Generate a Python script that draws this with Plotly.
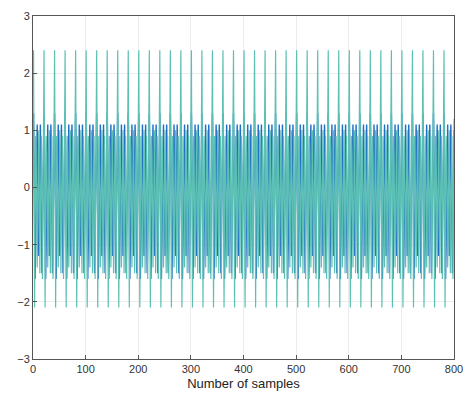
import plotly.graph_objects as go

# one period (20 samples), repeated over 800 samples
teal_period = [2.4, 0.2, -2.1, -0.4, 0.9, 0.6, -0.3, -1.4, -0.6, 0.9,
               1.0, -0.2, -1.5, -0.5, 0.8, 0.9, -0.4, -1.6, -0.2, 1.2]
blue_period = [1.3, 0.6, -0.5, -1.6, -1.0, 0.2, 1.0, 1.1, 0.3, -0.9,
               -1.2, -0.2, 0.9, 1.1, 0.4, -0.6, -1.5, -0.8, 0.4, 1.0]
n_periods = 40

teal = teal_period * n_periods
blue = blue_period * n_periods
samples = list(range(1, len(teal) + 1))

fig = go.Figure()
fig.add_trace(go.Scatter(x=samples, y=blue, mode="lines",
                         line=dict(color="#1f6fc4", width=1.4)))
fig.add_trace(go.Scatter(x=samples, y=teal, mode="lines",
                         line=dict(color="#5cc0b4", width=1.2)))

axis = dict(showline=True, linecolor="#555", linewidth=1, mirror=True,
            gridcolor="#ececec", zeroline=False, ticks="inside", ticklen=4,
            tickcolor="#555", tickfont=dict(size=11, color="#333"))
fig.update_layout(
    width=474, height=403, template=None, showlegend=False,
    paper_bgcolor="white", plot_bgcolor="white",
    margin=dict(l=25, r=28, t=8, b=52),
    font=dict(family="Liberation Sans, Arial"),
    xaxis=dict(range=[0, 800], dtick=100, automargin=False,
               title=dict(text="Number of samples", font=dict(size=13, color="#222"),
                          standoff=4), **axis),
    yaxis=dict(range=[-3, 3], dtick=1, automargin=False, **axis),
)
fig.write_html("out.html")
